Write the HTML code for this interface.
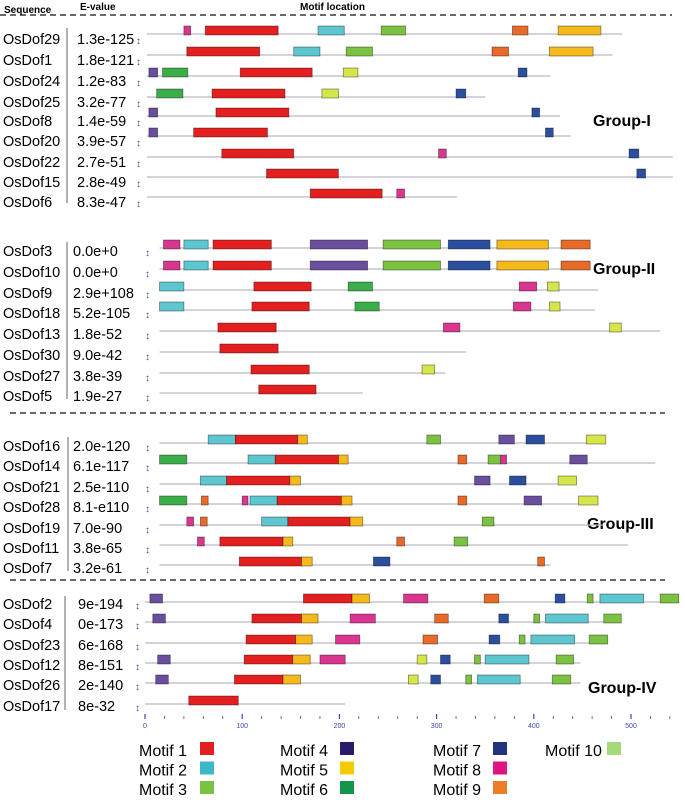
<!DOCTYPE html>
<html><head><meta charset="utf-8">
<style>
html,body{margin:0;padding:0;background:#fff;}
svg{display:block;font-family:"Liberation Sans",sans-serif;}
</style></head>
<body>
<svg id="chart" width="685" height="800" viewBox="0 0 685 800" xmlns="http://www.w3.org/2000/svg"></svg>
<script>
const motifColors = ["#e3201f","#5ec6cf","#7cc242","#6a4f9e","#f4b91a","#3bae4a","#2b4e9f","#d8368f","#e86a29","#d6e54a"];
const legendColors = ["#e3201f","#3ab8c8","#7cc242","#2a1a6e","#f2cc00","#13964a","#22347f","#e0137f","#ec7d24","#a6d97a"];
const groupNames = ["Group-I","Group-II","Group-III","Group-IV"];
const seqNames = [
 ["OsDof29","OsDof1","OsDof24","OsDof25","OsDof8","OsDof20","OsDof22","OsDof15","OsDof6"],
 ["OsDof3","OsDof10","OsDof9","OsDof18","OsDof13","OsDof30","OsDof27","OsDof5"],
 ["OsDof16","OsDof14","OsDof21","OsDof28","OsDof19","OsDof11","OsDof7"],
 ["OsDof2","OsDof4","OsDof23","OsDof12","OsDof26","OsDof17"]];
const evalues = [
 ["1.3e-125","1.8e-121","1.2e-83","3.2e-77","1.4e-59","3.9e-57","2.7e-51","2.8e-49","8.3e-47"],
 ["0.0e+0","0.0e+0","2.9e+108","5.2e-105","1.8e-52","9.0e-42","3.8e-39","1.9e-27"],
 ["2.0e-120","6.1e-117","2.5e-110","8.1-e110","7.0e-90","3.8e-65","3.2e-61"],
 ["9e-194","0e-173","6e-168","8e-151","2e-140","8e-32"]];
const seqSpans = [
 [[2,491],[2,481],[2,417],[2,350],[2,427],[2,438],[2,543],[2,543],[2,321]],
 [[15,458],[15,458],[15,466],[15,463],[15,530],[15,330],[15,309],[15,224]],
 [[15,474],[15,525],[15,444],[15,465],[15,471],[15,497],[15,417]],
 [[0,550],[0,490],[0,475],[0,448],[0,448],[0,206]]];
// motif hits: [start, end, motif(1-10)]
const motifHits = [
 [
  [[40,47,8],[62,137,1],[178,205,2],[243,268,3],[378,394,9],[425,469,5]],
  [[43,118,1],[153,180,2],[207,234,3],[357,374,9],[416,461,5]],
  [[4,13,4],[18,44,6],[98,172,1],[204,219,10],[384,393,7]],
  [[12,39,6],[69,144,1],[182,199,10],[320,330,7]],
  [[4,13,4],[73,148,1],[398,406,7]],
  [[4,13,4],[50,126,1],[412,420,7]],
  [[79,153,1],[302,310,8],[498,508,7]],
  [[125,199,1],[506,515,7]],
  [[170,244,1],[259,267,8]]
 ],[
  [[19,36,8],[40,65,2],[70,130,1],[170,229,4],[245,304,3],[312,355,7],[362,415,5],[428,458,9]],
  [[19,36,8],[40,65,2],[70,130,1],[170,229,4],[245,304,3],[312,355,7],[362,415,5],[428,458,9]],
  [[15,40,2],[112,171,1],[209,234,6],[385,403,8],[414,426,10]],
  [[15,40,2],[110,169,1],[216,241,6],[379,397,8],[416,427,10]],
  [[75,135,1],[307,324,8],[478,490,10]],
  [[77,137,1]],
  [[109,169,1],[285,298,10]],
  [[117,176,1]]
 ],[
  [[65,93,2],[93,157,1],[157,167,5],[290,304,3],[364,380,4],[392,411,7],[454,474,10]],
  [[15,43,6],[106,134,2],[134,199,1],[199,209,5],[322,331,9],[353,366,3],[366,372,8],[437,455,4]],
  [[57,84,2],[84,149,1],[149,160,5],[339,355,4],[375,392,7],[425,444,10]],
  [[15,43,6],[58,65,9],[100,106,8],[108,136,2],[136,202,1],[202,213,5],[322,331,9],[390,408,4],[446,466,10]],
  [[43,50,8],[57,64,9],[120,147,2],[147,211,1],[211,224,5],[347,359,3]],
  [[54,61,8],[77,142,1],[142,152,5],[259,267,9],[318,332,3]],
  [[97,161,1],[161,172,5],[235,252,7],[404,411,9]]
 ],[
  [[5,18,4],[163,213,1],[213,231,5],[266,291,8],[349,364,9],[422,432,7],[455,461,3],[468,513,2],[530,549,3]],
  [[8,21,4],[110,161,1],[161,178,5],[211,237,8],[298,312,9],[364,374,7],[400,406,3],[412,456,2],[472,490,3]],
  [[104,155,1],[155,172,5],[196,221,8],[286,301,9],[354,365,7],[385,391,3],[397,442,2],[457,476,3]],
  [[13,26,4],[102,152,1],[152,170,5],[180,206,8],[280,290,10],[304,314,7],[339,345,3],[350,395,2],[423,441,3]],
  [[11,24,4],[92,142,1],[142,160,5],[271,281,10],[294,304,7],[330,336,3],[342,386,2],[419,438,3]],
  [[45,96,1]]
 ]];
const tickValues = [0,100,200,300,400,500];
const tickLabels = ["0","100","200","300","400","500"];

const NS="http://www.w3.org/2000/svg";
const svg=document.getElementById('chart');
const X0=145, PX=0.972;
function x(v){return X0+v*PX;}
const rowY=[[34,55,76,97,116,136,157,177,197],[248,269,290,310,331,352,373,393],[443,463,484,504,525,545,565],[602,622,643,663,683,704]];
const textDy=[10,8,8,7];
const evX=[77,73,73,78], arrX=[136,145,145,135], sepX=[67,67,68,65];
const groupLabelPos=[[593,126],[593,274],[587,529],[588,693]];
function mk(tag,attrs,parent){const e=document.createElementNS(NS,tag);for(const k in attrs)e.setAttribute(k,attrs[k]);(parent||svg).appendChild(e);return e;}
function txt(s,attrs,parent){const e=mk('text',attrs,parent);e.textContent=s;return e;}

const hdr=mk('g',{});


txt('Sequence',{x:4,y:13,'font-size':10,'font-weight':'bold'},hdr);
txt('E-value',{x:80,y:10,'font-size':10,'font-weight':'bold'},hdr);
txt('Motif location',{x:300,y:10,'font-size':10,'font-weight':'bold'},hdr);
[[0,15,672],[10,413,665],[10,580,665]].forEach(d=>{
  const l=mk('line',{x1:d[0],y1:d[1],x2:d[2],y2:d[1],stroke:'#111','stroke-width':1.3,'stroke-dasharray':'6,4'});
  
  
});

for(let g=0;g<4;g++){
  const grp=mk('g',{});
  
  
  const ys=rowY[g];
  const sep=mk('line',{x1:sepX[g],y1:ys[0]-6,x2:sepX[g],y2:ys[ys.length-1]+6,stroke:'#666','stroke-width':1},grp);
  
  
  const gl=txt(groupNames[g],{x:groupLabelPos[g][0],y:groupLabelPos[g][1],'font-size':16,'font-weight':'bold'},grp);
  
  
  for(let r=0;r<seqNames[g].length;r++){
    const y=ys[r];
    const row=mk('g',{},grp);
    
    
    const n=txt(seqNames[g][r],{x:3,y:y+textDy[g],'font-size':14.5},row);
    
    
    const ev=txt(evalues[g][r],{x:evX[g],y:y+textDy[g],'font-size':14.5},row);
    
    
    const ar=txt('↕',{x:arrX[g],y:y+textDy[g],'font-size':10,fill:'#3a4ab0'},row);
    
    
    const sp=seqSpans[g][r];
    const ln=mk('line',{x1:x(sp[0]),y1:y,x2:x(sp[1]),y2:y,stroke:'#b9b9c4','stroke-width':1.3},row);
    
    
    motifHits[g][r].forEach(h=>{
      const rc=mk('rect',{x:x(h[0]),y:y-8,width:Math.max(2,(h[1]-h[0])*PX),height:9,fill:motifColors[h[2]-1],stroke:'rgba(0,0,0,0.45)','stroke-width':0.8},row);
      
      
    });
  }
}

const ax=mk('g',{});


for(let v=0;v<=550;v+=20){
  const major=tickValues.indexOf(v)>=0;
  const t=mk('line',{x1:x(v),y1:major?714:716,x2:x(v),y2:719,stroke:'#3a4ab0','stroke-width':major?1.2:0.8},ax);
  
  
}
tickValues.forEach((v,i)=>{
  const t=txt(tickLabels[i],{x:x(v),y:728,'font-size':7,'text-anchor':'middle',fill:'#3a4ab0'},ax);
  
  
});
const lg=mk('g',{});


const lgCols=[[139,200],[280,340],[433,493],[545,607]];
for(let i=0;i<10;i++){
  const c=Math.floor(i/3), rr=i%3;
  const y=750+rr*19.5;
  const e=mk('g',{},lg);
  
  
  txt('Motif '+(i+1),{x:lgCols[c][0],y:y+6,'font-size':16},e);
  mk('rect',{x:lgCols[c][1],y:y-8,width:14,height:13,fill:legendColors[i]},e);
}
</script>
</body></html>
